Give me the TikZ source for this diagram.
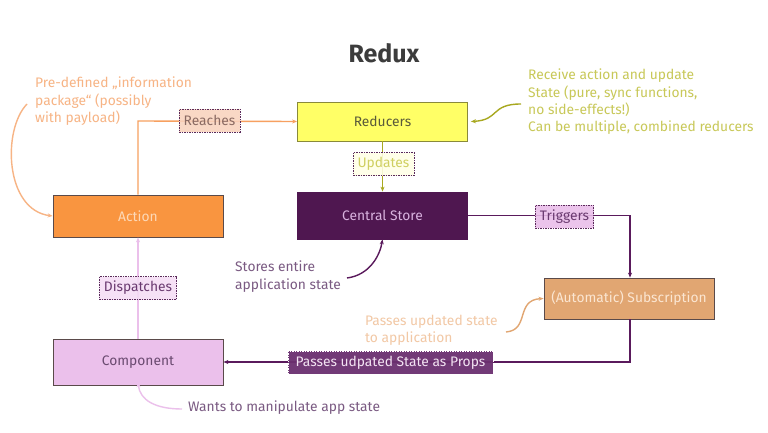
\documentclass[tikz,border=0pt]{standalone}
\usepackage{fontspec}
\setmainfont{Fira Sans}
\usetikzlibrary{arrows.meta}
\definecolor{titlec}{HTML}{3C3C3C}
\definecolor{redfill}{HTML}{FFFF66}
\definecolor{redborder}{HTML}{8A8A3A}
\definecolor{redtext}{HTML}{5A5A3A}
\definecolor{actfill}{HTML}{F99540}
\definecolor{acttext}{HTML}{FDD9B8}
\definecolor{storefill}{HTML}{4F1750}
\definecolor{storetext}{HTML}{D9B3DF}
\definecolor{subfill}{HTML}{E1A672}
\definecolor{subtext}{HTML}{FBE6D2}
\definecolor{compfill}{HTML}{EBC0EB}
\definecolor{comptext}{HTML}{6A4A70}
\definecolor{boxborder}{HTML}{5A4A4A}
\definecolor{orangeline}{HTML}{F7A060}
\definecolor{oliveline}{HTML}{A8A820}
\definecolor{purpline}{HTML}{5A1A5C}
\definecolor{pinkline}{HTML}{EBC0EB}
\definecolor{reachfill}{HTML}{F9D3BE}
\definecolor{reachtext}{HTML}{8A6A62}
\definecolor{updfill}{HTML}{FFFFE6}
\definecolor{updtext}{HTML}{CFCF60}
\definecolor{trigfill}{HTML}{E9BCE9}
\definecolor{trigtext}{HTML}{6A3A70}
\definecolor{propfill}{HTML}{6B3070}
\definecolor{proptext}{HTML}{F3E3F3}
\definecolor{dispfill}{HTML}{F5DDF5}
\definecolor{labelborder}{HTML}{5A2A5A}
\definecolor{notorange}{HTML}{F7B485}
\definecolor{notolive}{HTML}{C8C858}
\definecolor{notpurple}{HTML}{7A5A82}
\definecolor{notpeach}{HTML}{F2C8A5}
\definecolor{notpink}{HTML}{EBC0EB}
\begin{document}
\begin{tikzpicture}[x=1pt,y=-1pt,
  box/.style={draw=boxborder,line width=0.8pt,minimum width=170pt,inner sep=0pt,font=\fontsize{13.8}{16}\selectfont},
  lbl/.style={draw=labelborder,dash pattern=on 1.5pt off 1pt,line width=0.6pt,inner xsep=4.5pt,inner ysep=0pt,minimum height=23pt,font=\fontsize{13.8}{16}\selectfont,fill opacity=0.88,text opacity=1},
  conn/.style={line width=1.4pt,-{Stealth[length=5pt,width=4pt]}},
  note/.style={anchor=north west,align=left,inner sep=0pt,font=\fontsize{13.8}{17.3}\selectfont},
  notearrow/.style={line width=1.4pt,-{Stealth[length=5pt,width=4pt]}}
]
\useasboundingbox (0,0) rectangle (768,433);
\fill[white] (0,0) rectangle (768,433);

\node[font=\fontsize{25}{27}\selectfont\bfseries,text=titlec] (title) at (384,53) {Redux};

\node[box,fill=redfill,draw=redborder,text=redtext,minimum height=39pt] (red) at (382.5,121.5) {Reducers};
\node[box,fill=actfill,text=acttext,minimum height=42pt] (act) at (138,216) {Action};
\node[box,fill=storefill,draw=storefill,text=storetext,minimum height=47pt] (store) at (382.5,215.5) {Central Store};
\node[box,fill=subfill,text=subtext,minimum height=41pt] (sub) at (629,298.5) {(Automatic) Subscription};
\node[box,fill=compfill,text=comptext,minimum height=46pt] (comp) at (138,362) {Component};

% connectors
\coordinate (c1) at (138,121);
\draw[conn,orangeline] (act.north) -- (c1) -- (red.west);
\node[lbl,fill=reachfill,text=reachtext] (reach) at (209.5,120.5) {Reaches};

\draw[conn,oliveline] (red.south) -- (store.north);
\node[lbl,fill=updfill,text=updtext] (upd) at (383.5,164) {Updates};

\coordinate (c2) at (630,215.5);
\draw[conn,purpline] (store.east) -- (c2) -- (sub.north -| c2);
\node[lbl,fill=trigfill,text=trigtext] (trig) at (564.5,216.5) {Triggers};

\coordinate (c3) at (630,362);
\draw[conn,purpline] (sub.south -| c3) -- (c3) -- (comp.east);
\node[lbl,fill=propfill,draw=white,text=proptext,minimum width=205pt,fill opacity=0.95] (prop) at (390.5,362.5) {Passes udpated State as Props};

\draw[conn,pinkline] (comp.north) -- (act.south);
\node[lbl,fill=dispfill,text=trigtext] (disp) at (138,288) {Dispatches};

% notes
\node[note,text=notorange] (n1) at (35,77) {Pre-defined „information\\package“ (possibly\\with payload)};
\coordinate (n1s) at (27,104);
\draw[notearrow,notorange] (n1s) .. controls (2,130) and (5,210) .. (act.west);

\node[note,text=notolive] (n2) at (528,69) {Receive action and update\\State (pure, sync functions,\\no side-effects!)\\Can be multiple, combined reducers};
\coordinate (n2s) at (521,104);
\draw[notearrow,oliveline] (n2s) .. controls (490,104) and (500,120) .. ([xshift=3pt]red.east);

\node[note,text=notpurple] (n3) at (235,261) {Stores entire\\application state};
\coordinate (n3s) at (347,278);
\draw[notearrow,purpline] (n3s) .. controls (370,275) and (380,255) .. (store.south);

\node[note,text=notpeach] (n4) at (365,315) {Passes updated state\\to application};
\coordinate (n4s) at (506,332);
\draw[notearrow,subfill] (n4s) .. controls (530,330) and (515,300) .. (sub.west);

\node[note,text=notpurple] (n5) at (188,401) {Wants to manipulate app state};
\coordinate (n5s) at (182,409);
\draw[notearrow,notpink] (n5s) .. controls (155,409) and (140,400) .. ([yshift=3pt]comp.south);
\end{tikzpicture}
\end{document}
